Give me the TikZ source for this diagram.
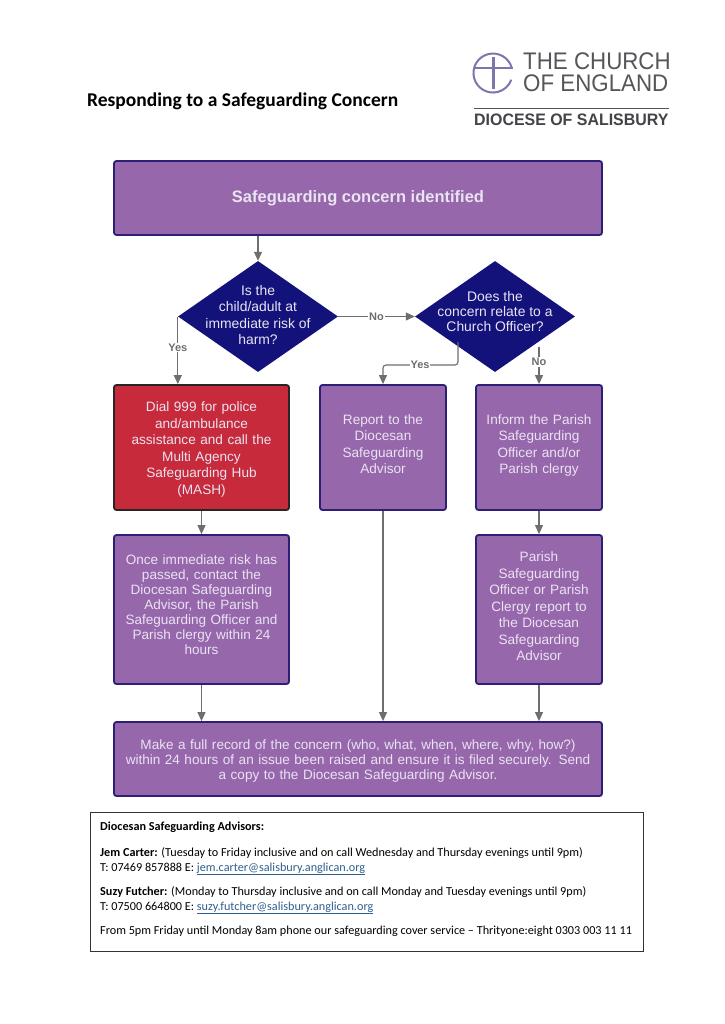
\documentclass[tikz,border=0pt]{standalone}
\usepackage{fontspec}
\setmainfont{Carlito}
\newfontfamily\flowfont{Liberation Sans}
\newfontfamily\logofont[FakeStretch=0.93]{Liberation Sans}
\newfontfamily\dioceseofont[FakeStretch=0.96]{Liberation Sans}
\usetikzlibrary{shapes.geometric,arrows.meta}
\definecolor{boxpurple}{HTML}{9767AB}
\definecolor{boxedge}{HTML}{2C1F78}
\definecolor{boxred}{HTML}{C72A3A}
\definecolor{boxnavy}{HTML}{12127A}
\definecolor{boxtext}{HTML}{E9E3F2}
\definecolor{linkgray}{HTML}{6E6E6E}
\definecolor{logogray}{HTML}{55555A}
\definecolor{logoviolet}{HTML}{7B76AE}
\definecolor{maillink}{HTML}{2F5F8F}
\tikzset{
  flowbox/.style={draw=boxedge, fill=boxpurple, line width=1.8pt, rounded corners=2.5pt,
    text=boxtext, align=center, inner sep=2pt, font=\flowfont\fontsize{13.6}{16.5}\selectfont},
  redbox/.style={flowbox, draw=black!85, fill=boxred},
  decide/.style={diamond, fill=boxnavy, inner sep=0pt, minimum width=160pt, minimum height=111pt},
  decidetext/.style={text=boxtext, align=center, inner sep=0pt, font=\flowfont\fontsize{13.9}{16.3}\selectfont},
  link/.style={draw=linkgray, line width=1.1pt, -{Triangle[length=9pt,width=8pt]}},
  linklabel/.style={fill=white, inner sep=1pt, text=linkgray, font=\flowfont\bfseries\fontsize{11}{12}\selectfont},
  infoline/.style={anchor=base west, inner sep=0pt, font=\fontsize{12.2}{14}\selectfont}
}
\newcommand{\maillink}[1]{\textcolor{maillink}{\underline{#1}}}
\newcommand{\pushup}[1]{\rule[-#1pt]{0pt}{#1pt}}
\newcommand{\pushdown}[1]{\rule{0pt}{#1pt}}
\begin{document}
\begin{tikzpicture}[x=1pt,y=-1pt]
  \useasboundingbox (0,0) rectangle (724,1024);
  \fill[white] (0,0) rectangle (724,1024);
  % Heading and logo
  \node[anchor=base west, inner sep=0pt, font=\bfseries\fontsize{19.5}{22}\selectfont] (heading) at (87,106.5) {Responding to a Safeguarding Concern};
  \draw[logoviolet, line width=2pt] (511.8,68) arc[start angle=15, end angle=340, radius=19.5pt];
  \draw[logoviolet, line width=3pt] (493,57) -- (493,89);
  \draw[logoviolet, line width=2.4pt] (473.5,68) -- (512.5,68);
  \node[anchor=base west, inner sep=0pt, text=logogray, font=\logofont\fontsize{24}{26}\selectfont] (logo1) at (523,70) {THE CHURCH};
  \node[anchor=base west, inner sep=0pt, text=logogray, font=\logofont\fontsize{24}{26}\selectfont] (logo2) at (523,92) {OF ENGLAND};
  \draw[logogray, line width=0.8pt] (474,108) -- (669,108);
  \node[anchor=base west, inner sep=0pt, text=logogray!80!black, font=\dioceseofont\bfseries\fontsize{16.6}{18}\selectfont] (logo3) at (474,126) {DIOCESE OF SALISBURY};
  % Flowchart nodes
  \node[flowbox, minimum width=488pt, minimum height=74pt, font=\flowfont\bfseries\fontsize{16.5}{19}\selectfont] (concern) at (358,198) {Safeguarding concern identified};
  \node[decide] (risk) at (258,316.5) {};
  \node[decidetext] (risktext) at (258,315) {Is the\\child/adult at\\immediate risk of\\harm?};
  \node[decide] (officer) at (495,316.5) {};
  \node[decidetext, font=\flowfont\fontsize{13.9}{14.8}\selectfont] (officertext) at (495,311.5) {Does the\\concern relate to a\\Church Officer?};
  \node[redbox, minimum width=175pt, minimum height=125pt, text width=165pt] (dial) at (201.5,447.5) {\pushdown{14}Dial 999 for police\\and/ambulance\\assistance and call the\\Multi Agency\\Safeguarding Hub\\(MASH)};
  \node[flowbox, minimum width=126pt, minimum height=125pt, text width=118pt] (report) at (383,447.5) {Report to the\\Diocesan\\Safeguarding\\Advisor\pushup{7}};
  \node[flowbox, minimum width=126pt, minimum height=125pt, text width=118pt] (inform) at (539,447.5) {Inform the Parish\\Safeguarding\\Officer and/or\\Parish clergy\pushup{7}};
  \node[flowbox, minimum width=175pt, minimum height=149pt, text width=168pt, font=\flowfont\fontsize{13.55}{15}\selectfont] (once) at (201.5,609.5) {Once immediate risk has\\passed, contact the\\Diocesan Safeguarding\\Advisor, the Parish\\Safeguarding Officer and\\Parish clergy within 24\\hours\pushup{10}};
  \node[flowbox, minimum width=126pt, minimum height=149pt, text width=118pt] (parish) at (539,609.5) {Parish\\Safeguarding\\Officer or Parish\\Clergy report to\\the Diocesan\\Safeguarding\\Advisor\pushup{6}};
  \node[flowbox, minimum width=488pt, minimum height=74pt, text width=478pt, font=\flowfont\fontsize{13.55}{15}\selectfont] (record) at (358,759) {\pushdown{14}Make a full record of the concern (who, what, when, where, why, how?)\\within 24 hours of an issue been raised and ensure it is filed securely. Send\\a copy to the Diocesan Safeguarding Advisor.};
  % Connectors
  \coordinate (officeryes) at (458,342);
  \coordinate (officerno) at (539,347);
  \coordinate (bend) at (458,365);
  \draw[link] (risk.north |- concern.south) -- (risk.north);
  \draw[link] (risk.west) -- node[linklabel, pos=0.46] (yes1) {Yes} (risk.west |- dial.north);
  \draw[link] (risk.east) -- node[linklabel, pos=0.5] (no1) {No} (officer.west);
  \draw[link, rounded corners=3pt] (officeryes) -- (bend) -| (report.north);
  \node[linklabel] (yes2) at (420,365) {Yes};
  \draw[link] (officerno) -- node[linklabel, pos=0.4] (no2) {No} (inform.north);
  \draw[link] (dial.south) -- (once.north);
  \draw[link] (inform.south) -- (parish.north);
  \draw[link] (once.south) -- (once.south |- record.north);
  \draw[link] (report.south) -- (report.south |- record.north);
  \draw[link] (parish.south) -- (parish.south |- record.north);
  % Contact box
  \node[draw=black!80, line width=0.8pt, minimum width=553pt, minimum height=139pt, inner sep=0pt] (contacts) at (366.5,881.5) {};
  \node[infoline, font=\bfseries\fontsize{12.2}{14}\selectfont] (line1) at (100,830.5) {Diocesan Safeguarding Advisors:};
  \node[infoline] (line2) at (100,856) {\textbf{Jem Carter:} (Tuesday to Friday inclusive and on call Wednesday and Thursday evenings until 9pm)};
  \node[infoline] (line3) at (100,871) {T: 07469 857888 E: \maillink{jem.carter@salisbury.anglican.org}};
  \node[infoline] (line4) at (100,895) {\textbf{Suzy Futcher:} (Monday to Thursday inclusive and on call Monday and Tuesday evenings until 9pm)};
  \node[infoline] (line5) at (100,910) {T: 07500 664800 E: \maillink{suzy.futcher@salisbury.anglican.org}};
  \node[infoline] (line6) at (100,934) {From 5pm Friday until Monday 8am phone our safeguarding cover service -- Thrityone:eight 0303 003 11 11};
\end{tikzpicture}
\end{document}
